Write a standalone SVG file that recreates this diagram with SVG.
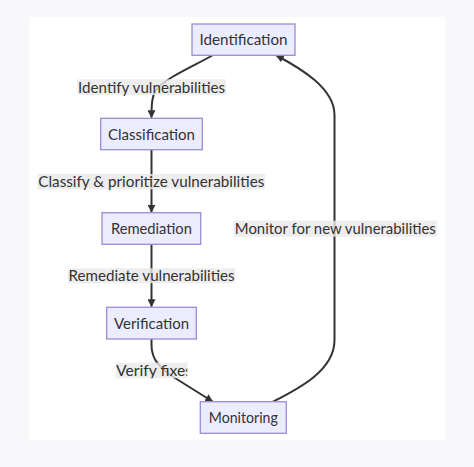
<svg xmlns="http://www.w3.org/2000/svg" width="474" height="467" viewBox="0 0 474 467">
<style>
.node rect{fill:#ECECFF;stroke:#9c8bd6;stroke-width:1.3}
text{font-family:Lato,"Liberation Sans",sans-serif;font-size:16px;fill:#333;text-anchor:middle}
.lbl rect{fill:#e8e8e8;opacity:0.8}
.edge{fill:none;stroke:#333;stroke-width:2;marker-end:url(#arr)}
</style>
<defs>
<marker id="arr" viewBox="0 0 10 10" refX="9" refY="5" markerWidth="8" markerHeight="8" markerUnits="userSpaceOnUse" orient="auto">
<path d="M0,0 L10,5 L0,10 z" fill="#333"/>
</marker>
<clipPath id="clipV"><rect x="115.7" y="362.7" width="71.6" height="15.5"/></clipPath>
</defs>
<rect width="474" height="467" fill="#f8f8fa"/>
<rect x="29" y="17" width="416" height="423" fill="#ffffff"/>
<g id="connectors">
<path class="edge" d="M213,55 C196,65 165,78 156,90 C152,96 151.5,104 151.5,117.5"/>
<path class="edge" d="M151.5,150 L151.5,212"/>
<path class="edge" d="M151.5,244.3 L151.5,306.5"/>
<path class="edge" d="M151.5,339 L151.5,345 C151.5,360 160,368 175,378 L212.5,401.5"/>
<path class="edge" d="M273,401.7 C300,388 334.5,370 334.5,340 L334.5,115 C334.5,88 300,68 276.5,55.5"/>
</g>
<g id="label-identify" class="lbl"><rect x="77.3" y="79.3" width="148.7" height="15.7"/><text x="151.6" y="92.8" textLength="147" lengthAdjust="spacingAndGlyphs">Identify vulnerabilities</text></g>
<g id="label-classify" class="lbl"><rect x="37.7" y="174" width="227.3" height="15.3"/><text x="151.3" y="187.3" textLength="226" lengthAdjust="spacingAndGlyphs">Classify &amp; prioritize vulnerabilities</text></g>
<g id="label-remediate" class="lbl"><rect x="68" y="268.3" width="167.3" height="15"/><text x="151.6" y="281.4" textLength="166" lengthAdjust="spacingAndGlyphs">Remediate vulnerabilities</text></g>
<g id="label-verify" class="lbl"><rect x="115.7" y="362.7" width="71.6" height="15.5"/><text x="116" y="375.8" style="text-anchor:start" clip-path="url(#clipV)" textLength="76" lengthAdjust="spacingAndGlyphs">Verify fixes</text></g>
<g id="label-monitor" class="lbl"><rect x="234" y="220.7" width="202.7" height="16"/><text x="335.3" y="234.3" textLength="201" lengthAdjust="spacingAndGlyphs">Monitor for new vulnerabilities</text></g>
<g id="identification" class="node"><rect x="192" y="24" width="103" height="31.3"/><text x="243.5" y="45.3" textLength="88" lengthAdjust="spacingAndGlyphs">Identification</text></g>
<g id="classification" class="node"><rect x="100.7" y="118.3" width="101.6" height="31.4"/><text x="151.5" y="139.8" textLength="87" lengthAdjust="spacingAndGlyphs">Classification</text></g>
<g id="remediation" class="node"><rect x="102" y="212.7" width="98.7" height="31.6"/><text x="151.4" y="234.3" textLength="81" lengthAdjust="spacingAndGlyphs">Remediation</text></g>
<g id="verification" class="node"><rect x="106.7" y="307.3" width="89.6" height="31.7"/><text x="151.5" y="328.8" textLength="75" lengthAdjust="spacingAndGlyphs">Verification</text></g>
<g id="monitoring" class="node"><rect x="200.3" y="401.7" width="86" height="31.6"/><text x="243.3" y="423.3" textLength="69" lengthAdjust="spacingAndGlyphs">Monitoring</text></g>
</svg>
